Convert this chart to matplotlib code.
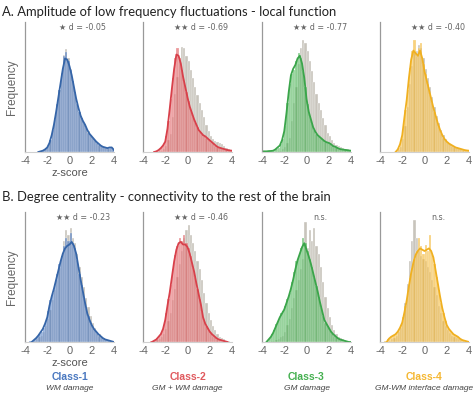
import numpy as np
import matplotlib.pyplot as plt

nan = np.nan

# x grid: 40 histogram bins of width 0.2 on [-4, 4], KDE evaluated on 41 points
bin_centers = np.arange(-3.9, 4.0, 0.2)
kde_grid = np.linspace(-4, 4, 41)

class_names = ['Class-1', 'Class-2', 'Class-3', 'Class-4']
class_desc = ['WM damage', 'GM + WM damage', 'GM damage', 'GM-WM interface damage']
class_colors = ['#4a78c0', '#e05a5e', '#45b050', '#f5b731']
line_colors = ['#3565a8', '#d8404a', '#3aa54a', '#f0b020']

row_titles = ['A. Amplitude of low frequency fluctuations - local function',
              'B. Degree centrality - connectivity to the rest of the brain']
stats_a = ['\u2605 d = -0.05', '\u2605\u2605 d = -0.69', '\u2605\u2605 d = -0.77', '\u2605\u2605 d = -0.40']
stats_b = ['\u2605\u2605 d = -0.23', '\u2605\u2605 d = -0.46', 'n.s.', 'n.s.']
xticks = [-4, -2, 0, 2, 4]

# ---- Row A: ALFF ----
a1_hist = [0, 0, 0, 0, 0, 0, 0.5, 1, 1.5, 3, 5, 9, 17, 26, 37, 48, 60, 74, 77, 70,
           63, 55, 46, 37, 31, 26, 22, 19, 15, 13, 11, 9, 7, 5.5, 4.5, 4, 3, 3, 4, 2]
a1_gray = [0, 0, 0, 0, 0, 0, 0.5, 1, 1.5, 3, 5, 9, 16, 25, 36, 48, 61, 75, 79, 72,
           64, 55, 46, 38, 31, 26, 22, 19, 16, 13, 11, 9, 7, 5.5, 4.5, 3.5, 3, 2.5, 2.5, 1.5]
a1_kde = [nan] * 6 + [0, 0.5, 1, 2, 3.5, 7, 13, 21, 31, 42, 53, 64, 72, 71, 66, 59, 50, 41, 34, 28,
                      24, 21, 17, 14, 12, 10, 8, 6.5, 5, 4, 3.5, 3, 3.5, 3.5, 1.5]

a2_hist = [0, 0, 0, 0, 0, 0.5, 1, 2, 3.5, 6, 12, 24, 41, 57, 72, 80, 72, 63, 55, 46,
           39, 32, 28, 23, 19, 16, 14, 12.5, 11, 10, 8, 7, 5, 4, 3, 3, 2, 2, 1.5, 1]
a2_gray = [0] * 7 + [0.5, 1, 2, 5, 9, 14, 27, 45, 58, 70, 81, 80, 74, 70, 63, 57, 50, 44, 38, 32,
                     27, 21, 16, 12, 10, 8.5, 8, 7, 6, 4.5, 3, 2, 1]
a2_kde = [nan] * 5 + [0, 0.5, 1.5, 3, 5, 8, 18, 33, 49, 64, 75, 74, 68, 58, 50, 42, 35, 30, 25, 21,
                      17, 15, 13, 12, 10.5, 9, 7.5, 6, 4.5, 3.5, 3, 2.5, 2, 1.5, 1.2, 1]

a3_hist = [0, 0, 0, 0.5, 0.5, 1, 2, 3, 6, 10, 20, 38, 52, 60, 63, 70, 76, 72, 62, 50,
           37, 28, 22, 17, 14, 12, 11, 9, 8, 7, 6.5, 5, 4, 3.5, 2.5, 2, 2, 1.5, 1.5, 1]
a3_gray = [0, 0, 0, 0, 0, 0, 0, 0.5, 1, 2, 4, 7, 11, 24, 38, 50, 68, 80, 86, 84,
           78, 70, 62, 54, 45, 38, 32, 26, 21, 15, 12, 9, 7, 5.5, 4.5, 3.5, 3, 2.5, 2, 1]
a3_kde = [0.5, 0.5, 0.5, 0.7, 0.8, 1, 2, 3.5, 5, 9, 16, 30, 46, 59, 64, 67, 72, 74, 68, 57,
          41, 31, 25, 19, 15.5, 13, 11.5, 10, 8.5, 7.5, 7, 6, 4.5, 4, 3, 2.3, 2, 1.7, 1.5, 1.2, 1]

a4_hist = [0] * 7 + [1, 3, 9, 18, 32, 48, 65, 78, 86, 74, 80, 84, 68, 60, 52, 45, 38, 31, 25, 20,
                     15, 11, 9, 7, 6, 5, 4, 3, 3, 2, 1.5, 1.5, 1]
a4_gray = [0] * 7 + [0.5, 1.5, 4, 10, 20, 35, 52, 66, 76, 78, 82, 80, 72, 64, 57, 50, 42, 35, 28, 22,
                     17, 13, 10, 8, 6.5, 5, 4, 3.5, 3, 2, 1.5, 1.5, 1]
a4_kde = [nan] * 7 + [0, 2, 6, 13, 27, 40, 57, 71, 78, 76, 74, 78, 72, 62, 55, 48, 41, 34, 28, 22,
                      17, 13, 10, 8, 6.5, 5.5, 4.5, 3.5, 3, 2.5, 2, 1.5, 1.2, 1]

# ---- Row B: degree centrality ----
b1_hist = [0, 0, 0.5, 1, 2, 4, 6, 8, 11, 16, 24, 32, 38, 45, 52, 60, 66, 74, 80, 78,
           84, 76, 72, 63, 52, 44, 34, 26, 20, 15, 11, 9, 7, 5, 3.5, 2.5, 2, 1, 0.5, 0]
b1_gray = [0, 0, 0, 0.5, 1, 2, 3.5, 5, 8, 12, 18, 25, 32, 40, 48, 57, 66, 78, 86, 82,
           88, 80, 76, 68, 58, 50, 42, 34, 27, 20, 15, 11, 8, 6, 4, 3, 2, 1.5, 0.5, 0]
b1_kde = [nan] * 3 + [0, 1.5, 3, 5, 7.5, 10, 14, 19, 28, 35, 41, 48, 55, 62, 68, 72, 74, 75, 77, 74,
                      68, 58, 48, 39, 30, 22, 17, 13, 10, 8, 6, 4.5, 3, 2, 1.5, 1, 0.5, 0]

b2_hist = [0, 0, 0, 0.5, 1, 1.5, 3, 5, 8, 13, 22, 33, 44, 56, 67, 74, 80, 78, 82, 76,
           72, 66, 58, 50, 41, 33, 24, 17, 12, 9, 7, 5, 3.5, 2.5, 2, 1, 0.5, 0.5, 0, 0]
b2_gray = [0, 0, 0, 0, 0.5, 1, 1.5, 2, 4, 6, 10, 16, 22, 32, 41, 50, 60, 70, 80, 86,
           90, 82, 76, 70, 62, 56, 48, 38, 30, 22, 17, 12, 9, 6, 4, 3, 2, 1, 0.5, 0]
b2_kde = [nan] * 4 + [0, 1, 2, 4, 6, 10, 17, 28, 38, 50, 62, 71, 76, 77, 75, 75, 73, 68, 61, 54,
                      45, 37, 29, 19, 14, 11, 8, 6, 4.5, 3, 2, 1.5, 1, 0.5, 0] + [nan] * 2

b3_hist = [0, 0, 1, 3, 6, 9, 14, 18, 22, 24, 28, 33, 38, 46, 54, 62, 66, 72, 80, 76,
           70, 64, 58, 50, 43, 35, 27, 20, 15, 12, 9, 7, 5, 3.5, 2.5, 1.5, 1, 0.5, 0, 0]
b3_gray = [0, 0, 0, 0, 0.5, 1, 1.5, 2, 4, 5, 8, 13, 18, 26, 34, 40, 48, 56, 64, 92,
           72, 86, 78, 88, 74, 68, 58, 46, 35, 26, 19, 13, 9, 6, 4, 3, 2, 1, 0.5, 0]
b3_kde = [nan] * 2 + [0, 2, 4, 7, 11, 15, 19, 22, 25, 30, 35, 41, 48, 56, 63, 68, 73, 76, 71, 66,
                      60, 53, 46, 39, 31, 24, 17, 14, 11, 8, 6, 4.5, 3, 2, 1.5, 1, 0.5, 0, 0]

b4_hist = [0, 0, 0.5, 2, 3, 4, 5.5, 7, 9, 13, 19, 28, 38, 49, 57, 64, 70, 80, 74, 68,
           75, 70, 82, 68, 60, 50, 40, 30, 22, 16, 11, 9, 7, 5.5, 4.5, 3, 2, 1, 0.5, 0]
b4_gray = [0, 0, 0, 0.5, 1, 2, 3, 5, 8, 11, 16, 30, 45, 62, 78, 94, 80, 70, 66, 64,
           62, 58, 54, 48, 42, 36, 28, 22, 16, 12, 9, 7, 5, 4, 3, 2, 1.5, 1, 0.5, 0]
b4_kde = [nan] * 3 + [0, 2.5, 4, 5, 6, 8, 11, 15, 23, 32, 43, 53, 61, 67, 70, 72, 71, 70, 71, 72,
                      70, 65, 55, 45, 35, 26, 19, 13, 10, 8, 6, 5, 4, 2.5, 1.5, 1, 0.5, 0]

rows = [
    [(a1_hist, a1_gray, a1_kde), (a2_hist, a2_gray, a2_kde),
     (a3_hist, a3_gray, a3_kde), (a4_hist, a4_gray, a4_kde)],
    [(b1_hist, b1_gray, b1_kde), (b2_hist, b2_gray, b2_kde),
     (b3_hist, b3_gray, b3_kde), (b4_hist, b4_gray, b4_kde)],
]
row_stats = [stats_a, stats_b]

plt.rcParams['font.family'] = ['Liberation Sans', 'DejaVu Sans']

W, H = 474, 395
fig = plt.figure(figsize=(W / 100, H / 100), dpi=100)
fig.patch.set_facecolor('white')

panel_left = [25, 143, 262, 380]   # pixel positions of x = -4
panel_w = 89
row_base = [152, 342]               # pixel y of baseline
panel_h = 130
title_y = [12, 197]

for r in range(2):
    fig.text(2 / W, 1 - title_y[r] / H, row_titles[r], fontsize=9.4,
             family='Lato', color='#222222', va='center', ha='left')
    for c in range(4):
        hist, gray, kde = rows[r][c]
        ax = fig.add_axes([panel_left[c] / W, 1 - row_base[r] / H, panel_w / W, panel_h / H])
        ax.bar(bin_centers, gray, width=0.2, color='#c8c4bc', edgecolor='white', linewidth=0.25)
        ax.bar(bin_centers, hist, width=0.2, color=class_colors[c], alpha=0.62,
               edgecolor='white', linewidth=0.25)
        ax.plot(kde_grid, kde, color=line_colors[c], linewidth=1.3)
        ax.set_xlim(-4, 4)
        ax.set_ylim(0, 100)
        ax.set_yticks([])
        ax.set_xticks(xticks)
        ax.set_xticklabels([str(t) for t in xticks])
        ax.tick_params(axis='x', length=0, labelsize=8, labelcolor='#666666', pad=3)
        for s in ['top', 'right']:
            ax.spines[s].set_visible(False)
        ax.spines['left'].set_color('#999999')
        ax.spines['left'].set_linewidth(0.9)
        ax.spines['bottom'].set_color('#d0d0d0')
        ax.spines['bottom'].set_linewidth(0.8)
        ax.text(0.65, 0.96, row_stats[r][c], transform=ax.transAxes, fontsize=5.8,
                family=['DejaVu Sans'], color='#666666', ha='center', va='center')
        if c == 0:
            ax.set_ylabel('Frequency', fontsize=8.5, color='#666666', labelpad=5)
            ax.set_xlabel('z-score', fontsize=8, color='#555555', labelpad=1)

# class labels under the bottom row
for c in range(4):
    cx = (panel_left[c] + panel_w / 2) / W
    fig.text(cx, 1 - 377 / H, class_names[c], color=class_colors[c], fontsize=7.5,
             fontweight='bold', ha='center', va='center')
    fig.text(cx, 1 - 389 / H, class_desc[c], color='#444444', fontsize=6,
             style='italic', ha='center', va='center')

fig.savefig('out.png', dpi=100, facecolor='white')
